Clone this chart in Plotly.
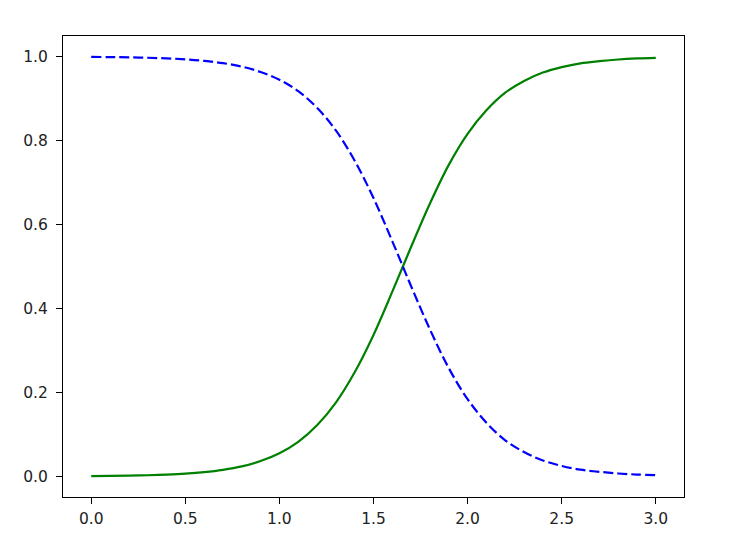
import plotly.graph_objects as go

# Petal width (x) and estimated probabilities
x_vals = [0.0, 0.1, 0.2, 0.3, 0.4, 0.5, 0.6, 0.7, 0.8, 0.9, 1.0,
          1.1, 1.2, 1.3, 1.4, 1.5, 1.6, 1.7, 1.8, 1.9, 2.0,
          2.1, 2.2, 2.3, 2.4, 2.5, 2.6, 2.7, 2.8, 2.9, 3.0]
p_green = [0.0008, 0.0012, 0.0018, 0.0028, 0.0043, 0.0066, 0.0102, 0.0157, 0.0239, 0.0366, 0.0552,
           0.0824, 0.122, 0.176, 0.248, 0.337, 0.440, 0.547, 0.650, 0.742, 0.816,
           0.872, 0.914, 0.942, 0.962, 0.975, 0.984, 0.989, 0.993, 0.9955, 0.997]
p_blue = [0.9992, 0.9988, 0.9982, 0.9972, 0.9957, 0.9934, 0.9898, 0.9843, 0.9761, 0.9634, 0.9448,
          0.9176, 0.878, 0.824, 0.752, 0.663, 0.560, 0.453, 0.350, 0.258, 0.184,
          0.128, 0.086, 0.058, 0.038, 0.025, 0.016, 0.011, 0.007, 0.0045, 0.003]

x_ticks = [0.0, 0.5, 1.0, 1.5, 2.0, 2.5, 3.0]
y_ticks = [0.0, 0.2, 0.4, 0.6, 0.8, 1.0]

fig = go.Figure()
fig.add_trace(go.Scatter(x=x_vals, y=p_green, mode="lines",
                         line=dict(color="#008000", width=2.2, shape="spline", smoothing=1.0)))
fig.add_trace(go.Scatter(x=x_vals, y=p_blue, mode="lines",
                         line=dict(color="#0000ff", width=2.2, dash="10px,4px",
                                   shape="spline", smoothing=1.0)))

axis_common = dict(showgrid=False, zeroline=False, showline=True, mirror=True,
                   linecolor="black", linewidth=1.2, ticks="outside", ticklen=6,
                   tickwidth=1.1, tickcolor="black",
                   tickfont=dict(family="DejaVu Sans", size=15.5, color="#222222"))

fig.update_xaxes(range=[-0.15, 3.15], tickvals=x_ticks,
                 ticktext=[f"{v:.1f}" for v in x_ticks], ticklabelstandoff=1, **axis_common)
fig.update_yaxes(range=[-0.049, 1.049], tickvals=y_ticks,
                 ticktext=[f"{v:.1f}" for v in y_ticks], ticklabelstandoff=5, **axis_common)

fig.update_layout(width=732, height=551, showlegend=False,
                  plot_bgcolor="white", paper_bgcolor="white",
                  margin=dict(l=55, r=56, t=28, b=62))

fig.write_html("out.html")
